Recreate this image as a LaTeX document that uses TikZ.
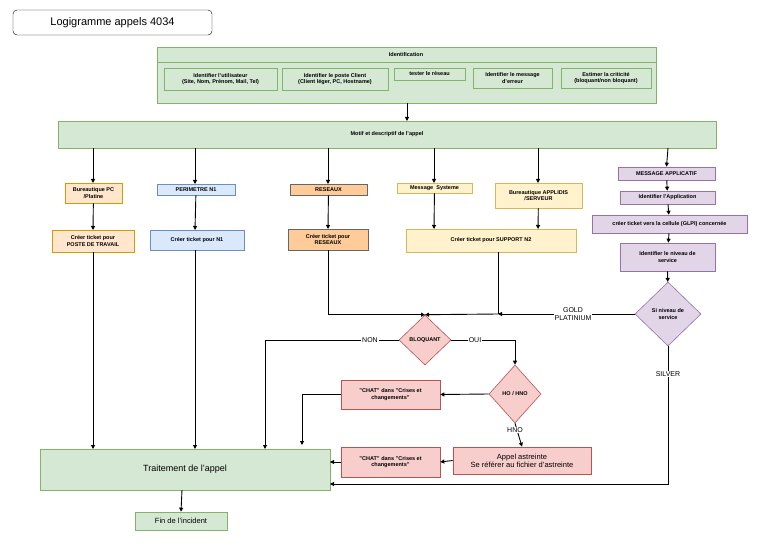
\documentclass[tikz,border=0pt]{standalone}
\usepackage{fontspec}
\setmainfont{Liberation Sans}
\usetikzlibrary{shapes.geometric,arrows.meta}
\definecolor{gF}{HTML}{D5E8D4}\definecolor{gD}{HTML}{82B366}
\definecolor{oF}{HTML}{FFE6CC}\definecolor{oD}{HTML}{D79B00}
\definecolor{bF}{HTML}{DAE8FC}\definecolor{bD}{HTML}{6C8EBF}
\definecolor{rF}{HTML}{FFCC99}\definecolor{rD}{HTML}{666666}
\definecolor{yF}{HTML}{FFF2CC}\definecolor{yD}{HTML}{D6B656}
\definecolor{pF}{HTML}{E1D5E7}\definecolor{pD}{HTML}{9673A6}
\definecolor{kF}{HTML}{F8CECC}\definecolor{kD}{HTML}{B85450}
\newcommand\bx[7]{\node[#6,minimum width={#4-#2},minimum height={#5-#3}] (#1) at ({(#2+#4)/2},{(#3+#5)/2}) {#7};}
\begin{document}
\begin{tikzpicture}[x=1pt,y=-1pt,
  base/.style={draw,rectangle,inner sep=1pt,align=center,font=\fontsize{5.5}{6.5}\selectfont\bfseries,line width=0.6pt},
  G/.style={base,fill=gF,draw=gD},O/.style={base,fill=oF,draw=oD},B/.style={base,fill=bF,draw=bD},
  R/.style={base,fill=rF,draw=rD},Y/.style={base,fill=yF,draw=yD},P/.style={base,fill=pF,draw=pD},
  K/.style={base,fill=kF,draw=kD},
  D/.style={diamond,draw,inner sep=0pt,align=center,font=\fontsize{5.5}{6.5}\selectfont\bfseries,line width=0.6pt},
  ar/.style={-{Triangle[width=4pt,length=4pt]},line width=0.9pt},
  ln/.style={line width=0.9pt},
  lab/.style={font=\fontsize{7}{8}\selectfont,fill=white,inner sep=1pt,align=center}]
\useasboundingbox (0,0) rectangle (768,545);
\fill[white] (0,0) rectangle (768,545);
\node[draw,rounded corners=4pt,minimum width=199pt,minimum height=25pt,font=\fontsize{11}{13}\selectfont] (title) at (112.5,22.5) {Logigramme appels 4034};
\bx{idf}{157}{47}{656}{103}{G}{}
\draw[gD,line width=0.6pt] (157,62) -- (656,62);
\node[font=\fontsize{5.5}{6.5}\selectfont\bfseries] (idft) at (406,55) {Identification};
\bx{i1}{164}{68}{277}{90}{G}{Identifier l'utilisateur\\(Site, Nom, Prénom, Mail, Tel)}
\bx{i2}{282}{68}{388}{90}{G}{Identifier le poste Client\\(Client léger, PC, Hostname)}
\bx{i3}{394}{68}{465}{80}{G}{tester le réseau}
\bx{i4}{473}{68}{552}{88}{G}{Identifier le message\\d'erreur}
\bx{i5}{561}{68}{651}{88}{G}{Estimer la criticité\\(bloquant/non bloquant)}
\bx{mot}{58}{121}{716}{148}{G}{Motif et descriptif de l'appel}
\draw[ar] (407,103) -- (407,121);
\bx{bpc}{65}{183}{122}{203}{O}{Bureautique PC\\/Platine}
\bx{tpc}{52}{230}{134}{252}{O}{Créer ticket pour\\POSTE DE TRAVAIL}
\bx{per}{157}{184}{235}{195}{B}{PERIMETRE N1}
\bx{tn1}{150}{230}{244}{250}{B}{Créer ticket pour N1}
\bx{res}{290}{184}{367}{195}{R}{RESEAUX}
\bx{tres}{288}{229}{368}{250}{R}{Créer ticket pour\\RESEAUX}
\bx{msg}{397}{183}{472}{193}{Y}{Message\ \ Systeme}
\bx{bap}{495}{183}{582}{208}{Y}{Bureautique APPLIDIS\\/SERVEUR}
\bx{tn2}{406}{229}{576}{252}{Y}{Créer ticket pour SUPPORT N2}
\bx{mapp}{618}{167}{715}{180}{P}{MESSAGE APPLICATIF}
\bx{iapp}{620}{191}{715}{204}{P}{Identifier l'Application}
\bx{tcel}{592}{215}{747}{233}{P}{créer ticket vers la cellule (GLPI) concernée}
\bx{niv}{620}{243}{715}{271}{P}{Identifier le niveau de\\service}
\node[D,fill=pF,draw=pD,minimum width=66pt,minimum height=64pt] (sn) at (668,314) {Si niveau de\\service};
\node[D,fill=kF,draw=kD,minimum width=52pt,minimum height=50pt] (blq) at (425,340) {BLOQUANT};
\node[D,fill=kF,draw=kD,minimum width=52pt,minimum height=58pt] (ho) at (515,394) {HO / HNO};
\bx{chat1}{341}{380}{440}{409}{K}{"CHAT" dans "Crises et\\changements"}
\bx{ast}{453}{447}{591}{474}{K}{\mdseries\fontsize{7.5}{8.5}\selectfont Appel astreinte\\\mdseries\fontsize{7.5}{8.5}\selectfont Se référer au fichier d'astreinte}
\bx{chat2}{341}{447}{440}{477}{K}{"CHAT" dans "Crises et\\changements"}
\bx{trt}{40}{449}{330}{490}{G}{\mdseries\fontsize{9}{11}\selectfont Traitement de l'appel}
\bx{fin}{135}{512}{227}{530}{G}{\mdseries\fontsize{7.5}{9}\selectfont Fin de l'incident}
% branches
\draw[ar] (93,148) -- (93,183);
\draw[ar] (195,148) -- (195,184);
\draw[ar] (328,148) -- (328,184);
\draw[ar] (434,148) -- (434,183);
\draw[ar] (538,148) -- (538,183);
\draw[ar] (668,148) -- (mapp.north);
\draw[ar] (bpc) -- (93,230);
\draw[ar] (per) -- (195,230);
\draw[ar] (res) -- (328,229);
\draw[ar] (msg) -- (434,229);
\draw[ar] (bap) -- (538,229);
\draw[ar] (mapp) -- (iapp);
\draw[ar] (iapp) -- (tcel);
\draw[ar] (tcel) -- (niv);
\draw[ar] (niv) -- (sn);
\draw[ar] (93,252) -- (93,449);
\draw[ar] (195,250) -- (195,449);
\draw[ar] (328,250) |- (blq.north);
\draw[ln] (498,252) -- (498,314);
\draw[ar] (sn.west) -- (498,314);
\draw[ar] (498,314) -- (blq.north);
\node[lab] (gold) at (573,314) {GOLD\\PLATINIUM};
\draw[ar] (blq.west) -| (265,449);
\node[lab] (non) at (370,340) {NON};
\draw[ar] (blq.east) -| (ho.north);
\node[lab] (oui) at (475,340) {OUI};
\draw[ar] (ho.west) -- (chat1.east);
\draw[ar] (chat1.west) -| (302,445);
\draw[ar] (ho.south) -- (ast.north);
\node[lab] (hno) at (515,430) {HNO};
\draw[ar] (ast.west) -- (chat2.east);
\draw[ar] (chat2.west) -- (330,462);
\draw[ar] (sn.south) |- (330,484);
\node[lab] (silv) at (668,374) {SILVER};
\draw[ar] (182,490) -- (fin.north);
\end{tikzpicture}
\end{document}
